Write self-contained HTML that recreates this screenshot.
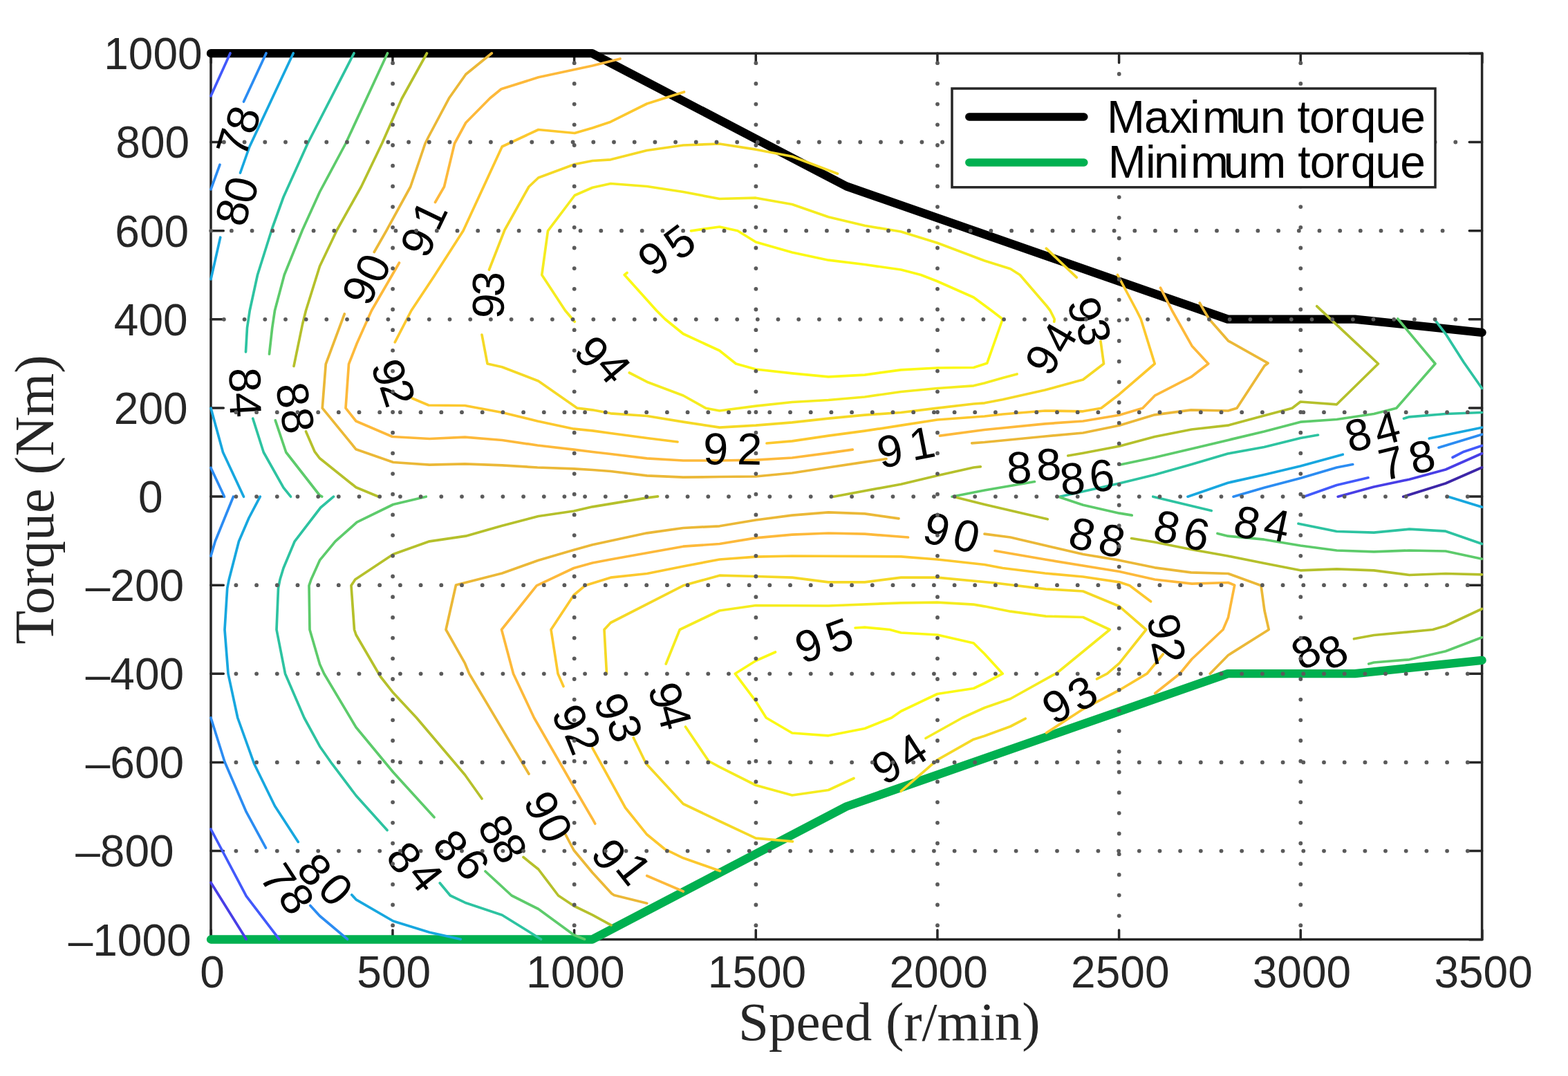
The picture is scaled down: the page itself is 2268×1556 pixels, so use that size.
<!DOCTYPE html>
<html lang="en"><head><meta charset="utf-8"><title>Motor efficiency map</title>
<style>html,body{margin:0;padding:0;background:#fff}svg{display:block}.tk{font-family:"Liberation Sans",Arial,sans-serif;font-size:64px;fill:#262626}.ax{font-family:"Liberation Serif","Times New Roman",serif;font-size:77px;fill:#262626}.lg{font-family:"Liberation Sans",Arial,sans-serif;font-size:66px;fill:#000}</style></head><body>
<svg width="2268" height="1556" viewBox="0 0 2268 1556">
<rect width="2268" height="1556" fill="#fff"/>
<g stroke="#262626" stroke-width="3.5" fill="none" stroke-linecap="round">
<rect x="305.0" y="77.2" width="1838.6" height="1281.3"/>
<path d="M305.30 1358.5 V1345.0 M305.30 77.2 V90.7"/>
<path d="M567.96 1358.5 V1345.0 M567.96 77.2 V90.7"/>
<path d="M830.61 1358.5 V1345.0 M830.61 77.2 V90.7"/>
<path d="M1093.27 1358.5 V1345.0 M1093.27 77.2 V90.7"/>
<path d="M1355.93 1358.5 V1345.0 M1355.93 77.2 V90.7"/>
<path d="M1618.59 1358.5 V1345.0 M1618.59 77.2 V90.7"/>
<path d="M1881.24 1358.5 V1345.0 M1881.24 77.2 V90.7"/>
<path d="M2143.90 1358.5 V1345.0 M2143.90 77.2 V90.7"/>
<path d="M305.0 1358.70 H323.3 M2143.6 1358.70 H2125.2999999999997"/>
<path d="M305.0 1230.57 H323.3 M2143.6 1230.57 H2125.2999999999997"/>
<path d="M305.0 1102.44 H323.3 M2143.6 1102.44 H2125.2999999999997"/>
<path d="M305.0 974.31 H323.3 M2143.6 974.31 H2125.2999999999997"/>
<path d="M305.0 846.18 H323.3 M2143.6 846.18 H2125.2999999999997"/>
<path d="M305.0 718.05 H323.3 M2143.6 718.05 H2125.2999999999997"/>
<path d="M305.0 589.92 H323.3 M2143.6 589.92 H2125.2999999999997"/>
<path d="M305.0 461.79 H323.3 M2143.6 461.79 H2125.2999999999997"/>
<path d="M305.0 333.66 H323.3 M2143.6 333.66 H2125.2999999999997"/>
<path d="M305.0 205.53 H323.3 M2143.6 205.53 H2125.2999999999997"/>
<path d="M305.0 77.40 H323.3 M2143.6 77.40 H2125.2999999999997"/>
</g>
<path d="M305.0 77.2 L856.6 77.2 L1224.3 269.4 L1775.9 461.6 L1959.7 461.6 L2143.6 480.8" stroke="#000" stroke-width="12.3" fill="none" stroke-linecap="round" stroke-linejoin="round"/>
<path d="M305.0 1358.5 L856.6 1358.5 L1224.3 1166.3 L1775.9 974.1 L1959.7 974.1 L2143.6 954.9" stroke="#00b050" stroke-width="12.3" fill="none" stroke-linecap="round" stroke-linejoin="round"/>
<g fill="none" stroke-width="3.7" stroke-linecap="round" stroke-linejoin="round" transform="scale(1.0 1)">
<path d="M333.00 77.0 L305.00 138.8" stroke="#4259fb"/>
<path d="M385.00 77.0 L352.50 147.0" stroke="#2b8cf2"/>
<path d="M318.00 238.2 L305.00 273.8" stroke="#2b8cf2"/>
<path d="M305.00 676.5 L324.50 718.2" stroke="#2b8cf2"/>
<path d="M424.25 77.0 L360.75 212.5 L347.50 250.0" stroke="#17a7df"/>
<path d="M318.75 343.2 L305.00 403.8" stroke="#17a7df"/>
<path d="M305.00 590.2 L322.50 654.0 L352.50 718.2" stroke="#17a7df"/>
<path d="M512.00 77.0 L445.00 207.5 L410.00 285.0 L393.75 330.0 L372.50 397.5 L361.25 449.0 L357.50 474.0 L355.50 509.0" stroke="#2dc3a1"/>
<path d="M365.75 605.2 L381.25 654.0 L410.00 705.2 L420.50 718.2" stroke="#2dc3a1"/>
<path d="M560.50 77.0 L500.00 207.5 L462.50 277.5 L437.50 332.5 L411.25 397.5 L397.50 449.0 L393.75 474.0 L389.50 512.0" stroke="#5dcb6b"/>
<path d="M398.25 607.8 L413.75 654.0 L462.50 716.5 L465.75 718.2" stroke="#5dcb6b"/>
<path d="M617.50 77.0 L581.25 142.5 L552.50 207.5 L522.50 270.0 L487.50 332.5 L462.50 385.0 L442.50 449.0 L437.50 469.0 L425.00 529.5" stroke="#b5c02b"/>
<path d="M442.50 624.0 L455.00 652.8 L462.50 662.8 L515.00 704.8 L547.50 718.2" stroke="#b5c02b"/>
<path d="M711.25 77.0 L673.75 107.5 L650.00 141.2 L620.00 197.5 L615.00 207.5 L593.75 270.0 L558.75 333.8 L541.25 364.5" stroke="#ebb837"/>
<path d="M498.25 454.0 L471.25 526.5 L466.25 590.2 L515.00 649.8 L568.75 668.5 L621.25 672.2 L672.50 670.8 L726.25 672.8 L777.50 676.0 L830.00 677.8 L857.00 679.5 L883.25 681.5 L935.75 687.8 L988.25 690.2 L1040.75 689.5 L1093.25 689.0 L1145.75 684.0 L1198.25 676.0 L1250.75 668.2 L1282.00 663.5" stroke="#ebb837"/>
<path d="M1405.75 640.8 L1424.00 639.5 L1511.50 631.0 L1566.50 626.0 L1619.00 615.2 L1670.25 599.8 L1722.75 592.8 L1776.50 594.0 L1789.00 590.2 L1829.00 529.0 L1834.00 525.2 L1776.50 492.8 L1749.00 461.5 L1741.50 449.0 L1735.25 438.0" stroke="#ebb837"/>
<path d="M897.00 85.0 L857.00 95.0 L778.75 111.8 L725.00 128.8 L708.75 142.0 L673.75 177.5 L657.50 207.5 L642.50 270.0 L629.50 292.5" stroke="#fdb93a"/>
<path d="M577.50 380.0 L537.50 449.0 L516.25 496.5 L504.50 526.5 L500.00 590.2 L515.00 609.0 L567.50 631.5 L621.25 634.5 L672.50 632.2 L726.25 636.5 L777.50 644.0 L830.00 650.2 L857.00 653.5 L883.25 656.5 L935.75 662.8 L988.25 666.0 L1040.75 666.0 L1093.25 665.2 L1145.75 662.0 L1198.25 655.2 L1233.25 650.2" stroke="#fdb93a"/>
<path d="M1359.50 630.2 L1424.00 621.5 L1511.50 612.8 L1566.50 609.0 L1619.00 600.2 L1652.75 590.2 L1670.25 572.2 L1722.75 545.2 L1747.75 526.0 L1724.00 500.2 L1695.25 449.0 L1678.50 416.2" stroke="#fdb93a"/>
<path d="M989.50 133.0 L935.75 150.0 L883.25 176.2 L857.00 185.0 L831.25 192.5 L778.75 187.5 L726.25 212.0 L670.00 333.8 L627.50 400.0 L595.00 449.0 L571.25 494.8" stroke="#fcc82d"/>
<path d="M596.25 576.0 L620.00 586.0 L672.50 586.5 L726.25 596.5 L777.50 609.0 L830.00 620.2 L857.00 622.8 L883.25 626.5 L935.75 633.5 L980.00 639.0" stroke="#fcc82d"/>
<path d="M1109.00 641.0 L1145.75 637.8 L1198.25 630.2 L1250.75 623.2 L1303.25 615.2 L1355.75 607.0 L1424.00 602.0 L1450.25 599.0 L1511.50 594.0 L1566.50 594.8 L1592.75 590.2 L1619.00 570.2 L1670.25 526.0 L1650.25 461.5 L1644.00 449.0 L1616.50 397.5" stroke="#fcc82d"/>
<path d="M1211.50 251.2 L1145.75 226.2 L1093.25 216.2 L1040.75 208.0 L988.25 210.0 L935.75 217.5 L883.25 230.8 L857.00 232.5 L831.25 237.5 L778.75 257.0 L765.00 270.0 L730.00 332.5 L707.50 390.0" stroke="#f5d925"/>
<path d="M697.00 484.0 L705.00 526.0 L726.25 530.8 L778.75 551.0 L835.00 590.2 L857.00 592.8 L883.25 597.8 L935.75 601.5 L988.25 610.2 L1040.75 618.2 L1093.25 615.2 L1145.75 610.8 L1198.25 605.2 L1250.75 600.2 L1303.25 596.5 L1355.75 590.2 L1408.25 584.0 L1424.00 582.8 L1450.25 577.8 L1511.50 564.0 L1566.50 549.0 L1596.50 526.0 L1592.00 493.5" stroke="#f5d925"/>
<path d="M1557.25 401.2 L1513.25 359.2" stroke="#f5d925"/>
<path d="M1524.75 465.2 L1525.25 461.5 L1519.00 449.0 L1514.00 442.5 L1475.25 397.5 L1461.50 388.8 L1424.00 377.0 L1355.75 351.2 L1303.25 335.0 L1250.75 326.2 L1198.25 313.8 L1145.75 295.5 L1093.25 286.2 L1040.75 287.5 L988.25 277.5 L935.75 269.5 L883.25 265.5 L857.00 271.2 L831.25 282.5 L792.50 333.8 L783.75 397.5 L817.50 449.0 L831.25 465.2" stroke="#f5ec1f"/>
<path d="M910.25 539.0 L935.75 552.2 L988.25 572.0 L1020.75 590.2 L1040.75 594.0 L1093.25 587.2 L1145.75 581.5 L1198.25 578.5 L1250.75 574.0 L1303.25 566.5 L1355.75 561.5 L1408.25 557.8 L1424.00 554.0 L1450.25 546.5 L1471.00 541.0" stroke="#f5ec1f"/>
<path d="M999.50 333.8 L1040.75 328.0 L1067.00 333.8 L1093.25 350.0 L1145.75 365.0 L1198.25 376.2 L1250.75 382.5 L1303.25 390.0 L1332.00 397.5 L1355.75 406.8 L1408.25 430.0 L1434.00 449.0 L1450.25 461.5 L1427.75 525.2 L1408.25 531.5 L1355.75 532.0 L1303.25 534.8 L1250.75 542.2 L1198.25 544.8 L1145.75 539.8 L1093.25 534.0 L1064.50 526.0 L1040.75 507.0 L988.25 482.8 L962.00 461.5 L949.50 449.0 L903.25 397.5 L907.00 394.5" stroke="#fbf914"/>
<path d="M1904.75 442.8 L1993.50 526.0 L1933.50 584.8 L1881.00 581.0 L1869.00 590.2 L1828.50 601.0 L1776.00 615.2 L1723.50 621.0 L1670.25 631.5 L1619.00 645.2 L1566.50 655.2 L1544.75 659.0" stroke="#b5c02b"/>
<path d="M1418.25 674.8 L1408.25 676.0 L1355.75 687.8 L1303.25 700.2 L1205.75 718.2" stroke="#b5c02b"/>
<path d="M2021.75 461.0 L2076.00 526.0 L2019.75 590.2 L1987.25 598.5 L1933.50 606.5 L1881.00 610.2 L1828.50 624.0 L1723.50 649.0 L1670.25 661.5 L1620.25 672.0" stroke="#5dcb6b"/>
<path d="M1496.50 696.5 L1424.00 709.0 L1377.00 718.2" stroke="#5dcb6b"/>
<path d="M2074.75 461.5 L2091.00 482.8 L2117.25 524.0 L2143.50 561.5" stroke="#2dc3a1"/>
<path d="M2143.50 596.5 L2091.00 598.5 L2038.50 602.8 L2030.50 605.2" stroke="#2dc3a1"/>
<path d="M1906.50 629.0 L1881.00 633.5 L1828.50 646.5 L1776.00 656.0 L1723.50 671.5 L1670.25 686.5 L1619.00 699.0 L1532.75 718.2" stroke="#2dc3a1"/>
<path d="M2143.50 618.2 L2067.25 634.0" stroke="#17a7df"/>
<path d="M1942.25 657.2 L1881.00 674.0 L1828.50 686.5 L1776.00 698.2 L1718.00 718.2" stroke="#17a7df"/>
<path d="M2143.50 628.2 L2081.00 647.2" stroke="#2b8cf2"/>
<path d="M1956.75 671.5 L1933.50 676.0 L1881.00 691.5 L1828.50 705.2 L1784.00 718.2" stroke="#2b8cf2"/>
<path d="M2143.50 644.5 L2117.25 653.2 L2101.00 661.5" stroke="#4259fb"/>
<path d="M1979.00 690.8 L1933.50 701.5 L1886.00 718.2" stroke="#4259fb"/>
<path d="M2143.50 655.8 L2091.00 679.0 L2038.50 693.2 L1987.25 704.0 L1935.25 718.2" stroke="#483ee6"/>
<path d="M2143.50 676.0 L2091.00 699.0 L2029.75 718.2" stroke="#3d26a8"/>
<path d="M305.00 1276.2 L356.25 1358.2" stroke="#483ee6"/>
<path d="M305.00 1199.0 L356.25 1295.8 L403.75 1358.2" stroke="#4259fb"/>
<path d="M337.50 718.2 L311.25 782.8 L305.00 804.0" stroke="#2b8cf2"/>
<path d="M305.00 1038.0 L325.00 1101.8 L356.25 1174.2 L384.50 1226.2" stroke="#2b8cf2"/>
<path d="M448.75 1309.5 L462.50 1324.5 L502.50 1358.2" stroke="#2b8cf2"/>
<path d="M376.25 718.2 L360.00 749.0 L345.50 782.8 L331.25 838.0 L328.75 850.5 L325.00 910.5 L330.00 974.2 L343.75 1038.0 L367.50 1104.2 L397.50 1165.5 L431.25 1217.5" stroke="#17a7df"/>
<path d="M508.75 1294.0 L515.00 1300.8 L568.75 1332.0 L621.25 1348.2 L666.25 1358.2" stroke="#17a7df"/>
<path d="M2094.75 718.2 L2143.50 733.2" stroke="#17a7df"/>
<path d="M482.50 718.2 L463.75 734.0 L426.25 782.8 L410.00 821.5 L405.00 838.0 L402.50 850.5 L400.00 910.5 L412.50 974.2 L440.00 1038.0 L462.50 1079.2 L480.00 1104.2 L515.00 1150.5 L560.00 1200.5" stroke="#2dc3a1"/>
<path d="M636.25 1277.0 L651.25 1295.0 L672.50 1305.2 L726.25 1323.2 L782.50 1358.2" stroke="#2dc3a1"/>
<path d="M1667.75 718.2 L1752.25 738.5" stroke="#2dc3a1"/>
<path d="M1878.00 757.2 L1933.50 768.5 L1987.25 770.2 L2038.50 765.2 L2091.00 768.2 L2143.50 786.5" stroke="#2dc3a1"/>
<path d="M616.25 718.2 L568.75 729.5 L516.25 755.2 L485.00 782.8 L462.50 810.2 L450.00 838.0 L447.00 846.8 L448.00 910.5 L462.50 960.5 L468.75 974.2 L515.00 1051.8 L568.75 1116.8 L628.00 1181.8" stroke="#5dcb6b"/>
<path d="M702.00 1260.0 L740.00 1295.0 L778.75 1314.5 L830.00 1352.0 L845.50 1358.2" stroke="#5dcb6b"/>
<path d="M1532.75 719.0 L1566.50 730.2 L1619.00 742.2 L1637.25 745.2" stroke="#5dcb6b"/>
<path d="M1761.00 771.5 L1776.00 775.2 L1828.50 780.2 L1881.00 789.0 L1933.50 796.0 L1987.25 797.8 L2038.50 796.0 L2091.00 797.0 L2143.50 808.2" stroke="#5dcb6b"/>
<path d="M1979.75 960.0 L1987.25 958.0 L2038.50 953.8 L2091.00 941.8 L2143.50 921.8" stroke="#5dcb6b"/>
<path d="M951.50 717.8 L935.75 719.8 L857.00 732.8 L830.00 739.0 L778.75 746.5 L726.25 760.2 L673.75 775.2 L621.25 782.8 L568.75 801.5 L513.75 838.0 L508.00 846.8 L512.50 910.5 L515.00 918.0 L550.00 978.0 L568.75 1001.8 L602.50 1038.0 L672.50 1120.5 L697.00 1155.0" stroke="#b5c02b"/>
<path d="M757.00 1239.5 L778.75 1257.0 L807.50 1295.0 L830.00 1310.0 L857.00 1323.2 L884.00 1337.8" stroke="#b5c02b"/>
<path d="M1382.00 719.0 L1424.00 729.5 L1515.25 750.8" stroke="#b5c02b"/>
<path d="M1636.50 778.5 L1670.25 784.0 L1722.75 794.5 L1776.00 804.0 L1828.50 814.5 L1881.00 824.8 L1933.50 822.8 L1987.25 824.8 L2038.50 831.5 L2091.00 829.5 L2143.50 830.8" stroke="#b5c02b"/>
<path d="M1958.50 923.8 L1987.25 918.5 L2072.25 910.5 L2091.00 905.0 L2143.50 880.5" stroke="#b5c02b"/>
<path d="M1300.00 749.8 L1250.75 742.8 L1198.25 740.8 L1145.75 745.2 L1093.25 752.0 L1040.75 760.8 L988.25 763.5 L935.75 770.8 L857.00 787.8 L830.00 795.2 L778.75 810.2 L726.25 829.0 L659.50 846.0 L645.00 910.5 L672.50 959.2 L678.75 974.2 L765.00 1119.2" stroke="#ebb837"/>
<path d="M817.50 1205.8 L830.00 1229.5 L857.00 1262.0 L884.50 1292.0 L888.25 1294.5 L935.75 1306.2" stroke="#ebb837"/>
<path d="M1424.00 772.2 L1461.50 777.0 L1566.50 801.5 L1619.00 810.2 L1670.25 820.8 L1722.75 827.8 L1776.50 829.5 L1824.00 846.8 L1829.00 883.0 L1835.25 910.5 L1776.50 947.5 L1750.25 974.2" stroke="#ebb837"/>
<path d="M1313.50 777.0 L1250.75 772.2 L1198.25 771.0 L1145.75 773.2 L1093.25 777.8 L1040.75 786.5 L988.25 790.2 L883.25 809.0 L857.00 814.0 L830.00 821.5 L776.25 846.8 L725.50 910.5 L742.50 974.2 L772.50 1038.0 L830.00 1138.0 L857.00 1184.2 L860.75 1191.2" stroke="#fdb93a"/>
<path d="M935.75 1266.5 L988.25 1289.0" stroke="#fdb93a"/>
<path d="M1439.00 796.5 L1511.50 809.0 L1619.00 826.5 L1670.25 838.0 L1724.00 844.2 L1776.50 842.5 L1785.75 846.2 L1776.50 893.0 L1769.00 910.5 L1724.00 953.0 L1706.50 974.2 L1670.75 1002.5" stroke="#fdb93a"/>
<path d="M815.00 992.5 L807.00 974.2 L797.00 910.5 L830.00 860.5 L846.25 846.8 L883.25 835.2 L935.75 829.5 L988.25 819.0 L1040.75 809.0 L1093.25 805.2 L1145.75 804.0 L1303.25 804.8 L1355.75 809.0 L1424.00 816.5 L1450.25 821.5 L1511.50 829.0 L1566.50 834.0 L1619.00 841.8 L1634.00 846.8 L1664.50 869.8" stroke="#fcc82d"/>
<path d="M1682.25 946.0 L1659.00 974.2 L1619.00 998.0 L1566.50 1025.5 L1513.50 1059.8" stroke="#fcc82d"/>
<path d="M857.00 1081.8 L904.50 1168.0 L935.75 1206.8 L962.00 1228.2 L988.25 1240.8 L1041.50 1259.5" stroke="#fcc82d"/>
<path d="M877.50 974.2 L874.00 910.5 L883.25 900.5 L988.25 846.8 L1040.75 832.2 L1093.25 833.5 L1145.75 835.2 L1198.25 841.8 L1250.75 841.8 L1303.25 835.2 L1355.75 835.2 L1439.00 843.0 L1512.75 851.8 L1566.50 855.0 L1619.00 876.8 L1657.75 910.5 L1619.00 959.2 L1601.50 974.2 L1586.50 981.8" stroke="#f5d925"/>
<path d="M1483.25 1039.2 L1461.50 1050.5 L1424.00 1064.2 L1408.25 1069.2 L1355.75 1098.8 L1303.25 1144.2" stroke="#f5d925"/>
<path d="M916.25 1066.8 L934.50 1104.2 L988.25 1162.5 L1040.75 1187.5 L1093.25 1212.2 L1146.50 1216.8" stroke="#f5d925"/>
<path d="M963.25 960.0 L983.25 910.5 L1040.75 883.0 L1093.25 875.5 L1198.25 876.0 L1303.25 871.8 L1355.75 871.2 L1408.25 874.2 L1424.00 876.8 L1461.50 884.2 L1512.75 891.2 L1566.50 892.5 L1605.25 910.5 L1529.00 973.0 L1461.50 1010.5 L1424.00 1023.5 L1392.00 1038.0 L1339.00 1067.5" stroke="#f5ec1f"/>
<path d="M1235.00 1125.5 L1198.25 1142.5 L1145.75 1150.0 L1093.25 1135.5 L1040.75 1109.2 L1025.00 1100.5 L991.50 1051.0" stroke="#f5ec1f"/>
<path d="M1121.50 943.0 L1093.25 955.5 L1063.25 974.2 L1093.25 1014.2 L1108.25 1038.0 L1145.75 1060.0 L1198.25 1063.8 L1250.75 1053.5 L1289.50 1038.0 L1303.25 1028.5 L1355.75 1003.5 L1408.25 995.5 L1424.00 988.0 L1450.25 974.2 L1424.00 945.5 L1408.25 930.0 L1355.75 918.0 L1303.25 915.0 L1287.00 910.5 L1250.75 907.2 L1237.00 908.0" stroke="#fbf914"/>
</g>
<g font-family="Liberation Sans, Arial, sans-serif" font-size="65" fill="#000">
<text x="354.6 367.5" y="229.8 196.7" rotate="-73 -73">78</text>
<text x="353.9 366.1" y="330.0 297.5" rotate="-76 -76">80</text>
<text x="534.5 553.3" y="445.1 412.8" rotate="-68 -68">90</text>
<text x="617.2 633.6" y="376.1 336.8" rotate="-64.5 -64.5">91</text>
<text x="727.6 727.6" y="462.1 429.9" rotate="-86 -86">93</text>
<text x="944.6 982.2" y="402.1 378.6" rotate="-37 -37">95</text>
<text x="331.1 331.6" y="532.8 568.5" rotate="87 87">84</text>
<text x="398.6 405.2" y="557.6 594.3" rotate="80 80">88</text>
<text x="535.9 548.6" y="528.4 558.1" rotate="72 72">92</text>
<text x="827.6 858.8" y="509.4 531.7" rotate="50 50">94</text>
<text x="1016.8 1065.7" y="671.2 671.4" rotate="1 1">92</text>
<text x="1273.8 1320.1" y="677.5 666.5" rotate="-11 -11">91</text>
<text x="1518.8 1542.2" y="546.7 515.1" rotate="-60 -60">94</text>
<text x="1543.3 1556.0" y="437.0 468.8" rotate="75 75">93</text>
<text x="1457.3 1500.0" y="699.4 695.1" rotate="-3 -3">88</text>
<text x="1535.4 1578.0" y="716.5 712.0" rotate="-6 -6">86</text>
<text x="1952.8 1994.2" y="655.0 645.7" rotate="-15 -15">84</text>
<text x="2001.1 2044.6" y="695.8 686.7" rotate="-14 -14">78</text>
<text x="1331.7 1374.7" y="782.5 792.0" rotate="15 15">90</text>
<text x="1542.7 1585.8" y="790.5 799.4" rotate="13 13">88</text>
<text x="1665.5 1708.5" y="780.5 790.4" rotate="12 12">86</text>
<text x="1781.5 1824.8" y="774.0 777.5" rotate="12 12">84</text>
<text x="1160.5 1204.8" y="960.4 946.6" rotate="-20 -20">95</text>
<text x="1658.5 1664.7" y="893.3 928.4" rotate="78 78">92</text>
<text x="1883.5 1922.8" y="971.0 971.0" rotate="-28 -28">88</text>
<text x="1524.5 1561.2" y="1049.3 1031.0" rotate="-30 -30">93</text>
<text x="1279.5 1316.0" y="1137.3 1114.6" rotate="-33 -33">94</text>
<text x="937.1 949.0" y="994.2 1024.1" rotate="75 75">94</text>
<text x="858.6 876.9" y="1011.5 1043.2" rotate="72 72">93</text>
<text x="797.0 815.8" y="1030.6 1062.0" rotate="68 68">92</text>
<text x="756.0 774.3" y="1158.4 1191.0" rotate="64 64">90</text>
<text x="689.4 708.4" y="1194.0 1221.5" rotate="62 62">88</text>
<text x="623.3 654.0" y="1222.5 1249.3" rotate="52 52">86</text>
<text x="555.9 587.0" y="1239.8 1266.3" rotate="52 52">84</text>
<text x="426.4 456.9" y="1259.8 1288.2" rotate="47 47">80</text>
<text x="374.0 400.2" y="1267.9 1296.9" rotate="57 57">78</text>
<text x="852.2 888.0" y="1235.5 1256.0" rotate="52 52">91</text>
</g>
<g fill="#5a5a5a">
<circle cx="568.1" cy="91.2" r="2.9"/>
<circle cx="568.1" cy="120.9" r="2.9"/>
<circle cx="568.1" cy="150.6" r="2.9"/>
<circle cx="568.1" cy="180.3" r="2.9"/>
<circle cx="568.1" cy="210.0" r="2.9"/>
<circle cx="568.1" cy="239.7" r="2.9"/>
<circle cx="568.1" cy="269.4" r="2.9"/>
<circle cx="568.1" cy="299.1" r="2.9"/>
<circle cx="568.1" cy="328.8" r="2.9"/>
<circle cx="568.1" cy="358.5" r="2.9"/>
<circle cx="568.1" cy="388.1" r="2.9"/>
<circle cx="568.1" cy="417.8" r="2.9"/>
<circle cx="568.1" cy="447.5" r="2.9"/>
<circle cx="568.1" cy="477.2" r="2.9"/>
<circle cx="568.1" cy="506.9" r="2.9"/>
<circle cx="568.1" cy="536.6" r="2.9"/>
<circle cx="568.1" cy="566.3" r="2.9"/>
<circle cx="568.1" cy="596.0" r="2.9"/>
<circle cx="568.1" cy="625.7" r="2.9"/>
<circle cx="568.1" cy="655.4" r="2.9"/>
<circle cx="568.1" cy="685.1" r="2.9"/>
<circle cx="568.1" cy="714.7" r="2.9"/>
<circle cx="568.1" cy="744.4" r="2.9"/>
<circle cx="568.1" cy="774.1" r="2.9"/>
<circle cx="568.1" cy="803.8" r="2.9"/>
<circle cx="568.1" cy="833.5" r="2.9"/>
<circle cx="568.1" cy="863.2" r="2.9"/>
<circle cx="568.1" cy="892.9" r="2.9"/>
<circle cx="568.1" cy="922.6" r="2.9"/>
<circle cx="568.1" cy="952.3" r="2.9"/>
<circle cx="568.1" cy="982.0" r="2.9"/>
<circle cx="568.1" cy="1011.6" r="2.9"/>
<circle cx="568.1" cy="1041.3" r="2.9"/>
<circle cx="568.1" cy="1071.0" r="2.9"/>
<circle cx="568.1" cy="1100.7" r="2.9"/>
<circle cx="568.1" cy="1130.4" r="2.9"/>
<circle cx="568.1" cy="1160.1" r="2.9"/>
<circle cx="568.1" cy="1189.8" r="2.9"/>
<circle cx="568.1" cy="1219.5" r="2.9"/>
<circle cx="568.1" cy="1249.2" r="2.9"/>
<circle cx="568.1" cy="1278.9" r="2.9"/>
<circle cx="568.1" cy="1308.5" r="2.9"/>
<circle cx="568.1" cy="1338.2" r="2.9"/>
<circle cx="830.7" cy="91.2" r="2.9"/>
<circle cx="830.7" cy="120.9" r="2.9"/>
<circle cx="830.7" cy="150.6" r="2.9"/>
<circle cx="830.7" cy="180.3" r="2.9"/>
<circle cx="830.7" cy="210.0" r="2.9"/>
<circle cx="830.7" cy="239.7" r="2.9"/>
<circle cx="830.7" cy="269.4" r="2.9"/>
<circle cx="830.7" cy="299.1" r="2.9"/>
<circle cx="830.7" cy="328.8" r="2.9"/>
<circle cx="830.7" cy="358.5" r="2.9"/>
<circle cx="830.7" cy="388.1" r="2.9"/>
<circle cx="830.7" cy="417.8" r="2.9"/>
<circle cx="830.7" cy="447.5" r="2.9"/>
<circle cx="830.7" cy="477.2" r="2.9"/>
<circle cx="830.7" cy="506.9" r="2.9"/>
<circle cx="830.7" cy="536.6" r="2.9"/>
<circle cx="830.7" cy="566.3" r="2.9"/>
<circle cx="830.7" cy="596.0" r="2.9"/>
<circle cx="830.7" cy="625.7" r="2.9"/>
<circle cx="830.7" cy="655.4" r="2.9"/>
<circle cx="830.7" cy="685.1" r="2.9"/>
<circle cx="830.7" cy="714.7" r="2.9"/>
<circle cx="830.7" cy="744.4" r="2.9"/>
<circle cx="830.7" cy="774.1" r="2.9"/>
<circle cx="830.7" cy="803.8" r="2.9"/>
<circle cx="830.7" cy="833.5" r="2.9"/>
<circle cx="830.7" cy="863.2" r="2.9"/>
<circle cx="830.7" cy="892.9" r="2.9"/>
<circle cx="830.7" cy="922.6" r="2.9"/>
<circle cx="830.7" cy="952.3" r="2.9"/>
<circle cx="830.7" cy="982.0" r="2.9"/>
<circle cx="830.7" cy="1011.6" r="2.9"/>
<circle cx="830.7" cy="1041.3" r="2.9"/>
<circle cx="830.7" cy="1071.0" r="2.9"/>
<circle cx="830.7" cy="1100.7" r="2.9"/>
<circle cx="830.7" cy="1130.4" r="2.9"/>
<circle cx="830.7" cy="1160.1" r="2.9"/>
<circle cx="830.7" cy="1189.8" r="2.9"/>
<circle cx="830.7" cy="1219.5" r="2.9"/>
<circle cx="830.7" cy="1249.2" r="2.9"/>
<circle cx="830.7" cy="1278.9" r="2.9"/>
<circle cx="830.7" cy="1308.5" r="2.9"/>
<circle cx="830.7" cy="1338.2" r="2.9"/>
<circle cx="1093.4" cy="91.2" r="2.9"/>
<circle cx="1093.4" cy="120.9" r="2.9"/>
<circle cx="1093.4" cy="150.6" r="2.9"/>
<circle cx="1093.4" cy="180.3" r="2.9"/>
<circle cx="1093.4" cy="210.0" r="2.9"/>
<circle cx="1093.4" cy="239.7" r="2.9"/>
<circle cx="1093.4" cy="269.4" r="2.9"/>
<circle cx="1093.4" cy="299.1" r="2.9"/>
<circle cx="1093.4" cy="328.8" r="2.9"/>
<circle cx="1093.4" cy="358.5" r="2.9"/>
<circle cx="1093.4" cy="388.1" r="2.9"/>
<circle cx="1093.4" cy="417.8" r="2.9"/>
<circle cx="1093.4" cy="447.5" r="2.9"/>
<circle cx="1093.4" cy="477.2" r="2.9"/>
<circle cx="1093.4" cy="506.9" r="2.9"/>
<circle cx="1093.4" cy="536.6" r="2.9"/>
<circle cx="1093.4" cy="566.3" r="2.9"/>
<circle cx="1093.4" cy="596.0" r="2.9"/>
<circle cx="1093.4" cy="625.7" r="2.9"/>
<circle cx="1093.4" cy="655.4" r="2.9"/>
<circle cx="1093.4" cy="685.1" r="2.9"/>
<circle cx="1093.4" cy="714.7" r="2.9"/>
<circle cx="1093.4" cy="744.4" r="2.9"/>
<circle cx="1093.4" cy="774.1" r="2.9"/>
<circle cx="1093.4" cy="803.8" r="2.9"/>
<circle cx="1093.4" cy="833.5" r="2.9"/>
<circle cx="1093.4" cy="863.2" r="2.9"/>
<circle cx="1093.4" cy="892.9" r="2.9"/>
<circle cx="1093.4" cy="922.6" r="2.9"/>
<circle cx="1093.4" cy="952.3" r="2.9"/>
<circle cx="1093.4" cy="982.0" r="2.9"/>
<circle cx="1093.4" cy="1011.6" r="2.9"/>
<circle cx="1093.4" cy="1041.3" r="2.9"/>
<circle cx="1093.4" cy="1071.0" r="2.9"/>
<circle cx="1093.4" cy="1100.7" r="2.9"/>
<circle cx="1093.4" cy="1130.4" r="2.9"/>
<circle cx="1093.4" cy="1160.1" r="2.9"/>
<circle cx="1093.4" cy="1189.8" r="2.9"/>
<circle cx="1093.4" cy="1219.5" r="2.9"/>
<circle cx="1093.4" cy="1249.2" r="2.9"/>
<circle cx="1093.4" cy="1278.9" r="2.9"/>
<circle cx="1093.4" cy="1308.5" r="2.9"/>
<circle cx="1093.4" cy="1338.2" r="2.9"/>
<circle cx="1356.0" cy="91.2" r="2.9"/>
<circle cx="1356.0" cy="120.9" r="2.9"/>
<circle cx="1356.0" cy="150.6" r="2.9"/>
<circle cx="1356.0" cy="180.3" r="2.9"/>
<circle cx="1356.0" cy="210.0" r="2.9"/>
<circle cx="1356.0" cy="239.7" r="2.9"/>
<circle cx="1356.0" cy="269.4" r="2.9"/>
<circle cx="1356.0" cy="299.1" r="2.9"/>
<circle cx="1356.0" cy="328.8" r="2.9"/>
<circle cx="1356.0" cy="358.5" r="2.9"/>
<circle cx="1356.0" cy="388.1" r="2.9"/>
<circle cx="1356.0" cy="417.8" r="2.9"/>
<circle cx="1356.0" cy="447.5" r="2.9"/>
<circle cx="1356.0" cy="477.2" r="2.9"/>
<circle cx="1356.0" cy="506.9" r="2.9"/>
<circle cx="1356.0" cy="536.6" r="2.9"/>
<circle cx="1356.0" cy="566.3" r="2.9"/>
<circle cx="1356.0" cy="596.0" r="2.9"/>
<circle cx="1356.0" cy="625.7" r="2.9"/>
<circle cx="1356.0" cy="655.4" r="2.9"/>
<circle cx="1356.0" cy="685.1" r="2.9"/>
<circle cx="1356.0" cy="714.7" r="2.9"/>
<circle cx="1356.0" cy="744.4" r="2.9"/>
<circle cx="1356.0" cy="774.1" r="2.9"/>
<circle cx="1356.0" cy="803.8" r="2.9"/>
<circle cx="1356.0" cy="833.5" r="2.9"/>
<circle cx="1356.0" cy="863.2" r="2.9"/>
<circle cx="1356.0" cy="892.9" r="2.9"/>
<circle cx="1356.0" cy="922.6" r="2.9"/>
<circle cx="1356.0" cy="952.3" r="2.9"/>
<circle cx="1356.0" cy="982.0" r="2.9"/>
<circle cx="1356.0" cy="1011.6" r="2.9"/>
<circle cx="1356.0" cy="1041.3" r="2.9"/>
<circle cx="1356.0" cy="1071.0" r="2.9"/>
<circle cx="1356.0" cy="1100.7" r="2.9"/>
<circle cx="1356.0" cy="1130.4" r="2.9"/>
<circle cx="1356.0" cy="1160.1" r="2.9"/>
<circle cx="1356.0" cy="1189.8" r="2.9"/>
<circle cx="1356.0" cy="1219.5" r="2.9"/>
<circle cx="1356.0" cy="1249.2" r="2.9"/>
<circle cx="1356.0" cy="1278.9" r="2.9"/>
<circle cx="1356.0" cy="1308.5" r="2.9"/>
<circle cx="1356.0" cy="1338.2" r="2.9"/>
<circle cx="1618.7" cy="107.0" r="2.9"/>
<circle cx="1618.7" cy="136.7" r="2.9"/>
<circle cx="1618.7" cy="166.4" r="2.9"/>
<circle cx="1618.7" cy="196.1" r="2.9"/>
<circle cx="1618.7" cy="225.8" r="2.9"/>
<circle cx="1618.7" cy="255.4" r="2.9"/>
<circle cx="1618.7" cy="285.1" r="2.9"/>
<circle cx="1618.7" cy="314.8" r="2.9"/>
<circle cx="1618.7" cy="344.5" r="2.9"/>
<circle cx="1618.7" cy="374.2" r="2.9"/>
<circle cx="1618.7" cy="403.9" r="2.9"/>
<circle cx="1618.7" cy="433.6" r="2.9"/>
<circle cx="1618.7" cy="463.3" r="2.9"/>
<circle cx="1618.7" cy="493.0" r="2.9"/>
<circle cx="1618.7" cy="522.7" r="2.9"/>
<circle cx="1618.7" cy="552.4" r="2.9"/>
<circle cx="1618.7" cy="582.0" r="2.9"/>
<circle cx="1618.7" cy="611.7" r="2.9"/>
<circle cx="1618.7" cy="641.4" r="2.9"/>
<circle cx="1618.7" cy="671.1" r="2.9"/>
<circle cx="1618.7" cy="700.8" r="2.9"/>
<circle cx="1618.7" cy="730.5" r="2.9"/>
<circle cx="1618.7" cy="760.2" r="2.9"/>
<circle cx="1618.7" cy="789.9" r="2.9"/>
<circle cx="1618.7" cy="819.6" r="2.9"/>
<circle cx="1618.7" cy="849.3" r="2.9"/>
<circle cx="1618.7" cy="878.9" r="2.9"/>
<circle cx="1618.7" cy="908.6" r="2.9"/>
<circle cx="1618.7" cy="938.3" r="2.9"/>
<circle cx="1618.7" cy="968.0" r="2.9"/>
<circle cx="1618.7" cy="997.7" r="2.9"/>
<circle cx="1618.7" cy="1027.4" r="2.9"/>
<circle cx="1618.7" cy="1057.1" r="2.9"/>
<circle cx="1618.7" cy="1086.8" r="2.9"/>
<circle cx="1618.7" cy="1116.5" r="2.9"/>
<circle cx="1618.7" cy="1146.2" r="2.9"/>
<circle cx="1618.7" cy="1175.8" r="2.9"/>
<circle cx="1618.7" cy="1205.5" r="2.9"/>
<circle cx="1618.7" cy="1235.2" r="2.9"/>
<circle cx="1618.7" cy="1264.9" r="2.9"/>
<circle cx="1618.7" cy="1294.6" r="2.9"/>
<circle cx="1618.7" cy="1324.3" r="2.9"/>
<circle cx="1881.3" cy="91.2" r="2.9"/>
<circle cx="1881.3" cy="120.9" r="2.9"/>
<circle cx="1881.3" cy="150.6" r="2.9"/>
<circle cx="1881.3" cy="180.3" r="2.9"/>
<circle cx="1881.3" cy="210.0" r="2.9"/>
<circle cx="1881.3" cy="239.7" r="2.9"/>
<circle cx="1881.3" cy="269.4" r="2.9"/>
<circle cx="1881.3" cy="299.1" r="2.9"/>
<circle cx="1881.3" cy="328.8" r="2.9"/>
<circle cx="1881.3" cy="358.5" r="2.9"/>
<circle cx="1881.3" cy="388.1" r="2.9"/>
<circle cx="1881.3" cy="417.8" r="2.9"/>
<circle cx="1881.3" cy="447.5" r="2.9"/>
<circle cx="1881.3" cy="477.2" r="2.9"/>
<circle cx="1881.3" cy="506.9" r="2.9"/>
<circle cx="1881.3" cy="536.6" r="2.9"/>
<circle cx="1881.3" cy="566.3" r="2.9"/>
<circle cx="1881.3" cy="596.0" r="2.9"/>
<circle cx="1881.3" cy="625.7" r="2.9"/>
<circle cx="1881.3" cy="655.4" r="2.9"/>
<circle cx="1881.3" cy="685.1" r="2.9"/>
<circle cx="1881.3" cy="714.7" r="2.9"/>
<circle cx="1881.3" cy="744.4" r="2.9"/>
<circle cx="1881.3" cy="774.1" r="2.9"/>
<circle cx="1881.3" cy="803.8" r="2.9"/>
<circle cx="1881.3" cy="833.5" r="2.9"/>
<circle cx="1881.3" cy="863.2" r="2.9"/>
<circle cx="1881.3" cy="892.9" r="2.9"/>
<circle cx="1881.3" cy="922.6" r="2.9"/>
<circle cx="1881.3" cy="952.3" r="2.9"/>
<circle cx="1881.3" cy="982.0" r="2.9"/>
<circle cx="1881.3" cy="1011.6" r="2.9"/>
<circle cx="1881.3" cy="1041.3" r="2.9"/>
<circle cx="1881.3" cy="1071.0" r="2.9"/>
<circle cx="1881.3" cy="1100.7" r="2.9"/>
<circle cx="1881.3" cy="1130.4" r="2.9"/>
<circle cx="1881.3" cy="1160.1" r="2.9"/>
<circle cx="1881.3" cy="1189.8" r="2.9"/>
<circle cx="1881.3" cy="1219.5" r="2.9"/>
<circle cx="1881.3" cy="1249.2" r="2.9"/>
<circle cx="1881.3" cy="1278.9" r="2.9"/>
<circle cx="1881.3" cy="1308.5" r="2.9"/>
<circle cx="1881.3" cy="1338.2" r="2.9"/>
<circle cx="323.9" cy="205.5" r="2.9"/>
<circle cx="353.6" cy="205.5" r="2.9"/>
<circle cx="383.3" cy="205.5" r="2.9"/>
<circle cx="413.0" cy="205.5" r="2.9"/>
<circle cx="442.7" cy="205.5" r="2.9"/>
<circle cx="472.3" cy="205.5" r="2.9"/>
<circle cx="502.0" cy="205.5" r="2.9"/>
<circle cx="531.7" cy="205.5" r="2.9"/>
<circle cx="561.4" cy="205.5" r="2.9"/>
<circle cx="591.1" cy="205.5" r="2.9"/>
<circle cx="620.8" cy="205.5" r="2.9"/>
<circle cx="650.5" cy="205.5" r="2.9"/>
<circle cx="680.2" cy="205.5" r="2.9"/>
<circle cx="709.9" cy="205.5" r="2.9"/>
<circle cx="739.6" cy="205.5" r="2.9"/>
<circle cx="769.3" cy="205.5" r="2.9"/>
<circle cx="798.9" cy="205.5" r="2.9"/>
<circle cx="828.6" cy="205.5" r="2.9"/>
<circle cx="858.3" cy="205.5" r="2.9"/>
<circle cx="888.0" cy="205.5" r="2.9"/>
<circle cx="917.7" cy="205.5" r="2.9"/>
<circle cx="947.4" cy="205.5" r="2.9"/>
<circle cx="977.1" cy="205.5" r="2.9"/>
<circle cx="1006.8" cy="205.5" r="2.9"/>
<circle cx="1036.5" cy="205.5" r="2.9"/>
<circle cx="1066.2" cy="205.5" r="2.9"/>
<circle cx="1095.8" cy="205.5" r="2.9"/>
<circle cx="1125.5" cy="205.5" r="2.9"/>
<circle cx="1155.2" cy="205.5" r="2.9"/>
<circle cx="1184.9" cy="205.5" r="2.9"/>
<circle cx="1214.6" cy="205.5" r="2.9"/>
<circle cx="1244.3" cy="205.5" r="2.9"/>
<circle cx="1274.0" cy="205.5" r="2.9"/>
<circle cx="1303.7" cy="205.5" r="2.9"/>
<circle cx="1333.4" cy="205.5" r="2.9"/>
<circle cx="1363.1" cy="205.5" r="2.9"/>
<circle cx="1392.7" cy="205.5" r="2.9"/>
<circle cx="1422.4" cy="205.5" r="2.9"/>
<circle cx="1452.1" cy="205.5" r="2.9"/>
<circle cx="1481.8" cy="205.5" r="2.9"/>
<circle cx="1511.5" cy="205.5" r="2.9"/>
<circle cx="1541.2" cy="205.5" r="2.9"/>
<circle cx="1570.9" cy="205.5" r="2.9"/>
<circle cx="1600.6" cy="205.5" r="2.9"/>
<circle cx="1630.3" cy="205.5" r="2.9"/>
<circle cx="1660.0" cy="205.5" r="2.9"/>
<circle cx="1689.6" cy="205.5" r="2.9"/>
<circle cx="1719.3" cy="205.5" r="2.9"/>
<circle cx="1749.0" cy="205.5" r="2.9"/>
<circle cx="1778.7" cy="205.5" r="2.9"/>
<circle cx="1808.4" cy="205.5" r="2.9"/>
<circle cx="1838.1" cy="205.5" r="2.9"/>
<circle cx="1867.8" cy="205.5" r="2.9"/>
<circle cx="1897.5" cy="205.5" r="2.9"/>
<circle cx="1927.2" cy="205.5" r="2.9"/>
<circle cx="1956.9" cy="205.5" r="2.9"/>
<circle cx="1986.5" cy="205.5" r="2.9"/>
<circle cx="2016.2" cy="205.5" r="2.9"/>
<circle cx="2045.9" cy="205.5" r="2.9"/>
<circle cx="2075.6" cy="205.5" r="2.9"/>
<circle cx="2105.3" cy="205.5" r="2.9"/>
<circle cx="305.2" cy="333.7" r="2.9"/>
<circle cx="334.9" cy="333.7" r="2.9"/>
<circle cx="364.6" cy="333.7" r="2.9"/>
<circle cx="394.3" cy="333.7" r="2.9"/>
<circle cx="424.0" cy="333.7" r="2.9"/>
<circle cx="453.6" cy="333.7" r="2.9"/>
<circle cx="483.3" cy="333.7" r="2.9"/>
<circle cx="513.0" cy="333.7" r="2.9"/>
<circle cx="542.7" cy="333.7" r="2.9"/>
<circle cx="572.4" cy="333.7" r="2.9"/>
<circle cx="602.1" cy="333.7" r="2.9"/>
<circle cx="631.8" cy="333.7" r="2.9"/>
<circle cx="661.5" cy="333.7" r="2.9"/>
<circle cx="691.2" cy="333.7" r="2.9"/>
<circle cx="720.9" cy="333.7" r="2.9"/>
<circle cx="750.6" cy="333.7" r="2.9"/>
<circle cx="780.2" cy="333.7" r="2.9"/>
<circle cx="809.9" cy="333.7" r="2.9"/>
<circle cx="839.6" cy="333.7" r="2.9"/>
<circle cx="869.3" cy="333.7" r="2.9"/>
<circle cx="899.0" cy="333.7" r="2.9"/>
<circle cx="928.7" cy="333.7" r="2.9"/>
<circle cx="958.4" cy="333.7" r="2.9"/>
<circle cx="988.1" cy="333.7" r="2.9"/>
<circle cx="1017.8" cy="333.7" r="2.9"/>
<circle cx="1047.5" cy="333.7" r="2.9"/>
<circle cx="1077.1" cy="333.7" r="2.9"/>
<circle cx="1106.8" cy="333.7" r="2.9"/>
<circle cx="1136.5" cy="333.7" r="2.9"/>
<circle cx="1166.2" cy="333.7" r="2.9"/>
<circle cx="1195.9" cy="333.7" r="2.9"/>
<circle cx="1225.6" cy="333.7" r="2.9"/>
<circle cx="1255.3" cy="333.7" r="2.9"/>
<circle cx="1285.0" cy="333.7" r="2.9"/>
<circle cx="1314.7" cy="333.7" r="2.9"/>
<circle cx="1344.4" cy="333.7" r="2.9"/>
<circle cx="1374.0" cy="333.7" r="2.9"/>
<circle cx="1403.7" cy="333.7" r="2.9"/>
<circle cx="1433.4" cy="333.7" r="2.9"/>
<circle cx="1463.1" cy="333.7" r="2.9"/>
<circle cx="1492.8" cy="333.7" r="2.9"/>
<circle cx="1522.5" cy="333.7" r="2.9"/>
<circle cx="1552.2" cy="333.7" r="2.9"/>
<circle cx="1581.9" cy="333.7" r="2.9"/>
<circle cx="1611.6" cy="333.7" r="2.9"/>
<circle cx="1641.3" cy="333.7" r="2.9"/>
<circle cx="1670.9" cy="333.7" r="2.9"/>
<circle cx="1700.6" cy="333.7" r="2.9"/>
<circle cx="1730.3" cy="333.7" r="2.9"/>
<circle cx="1760.0" cy="333.7" r="2.9"/>
<circle cx="1789.7" cy="333.7" r="2.9"/>
<circle cx="1819.4" cy="333.7" r="2.9"/>
<circle cx="1849.1" cy="333.7" r="2.9"/>
<circle cx="1878.8" cy="333.7" r="2.9"/>
<circle cx="1908.5" cy="333.7" r="2.9"/>
<circle cx="1938.2" cy="333.7" r="2.9"/>
<circle cx="1967.8" cy="333.7" r="2.9"/>
<circle cx="1997.5" cy="333.7" r="2.9"/>
<circle cx="2027.2" cy="333.7" r="2.9"/>
<circle cx="2056.9" cy="333.7" r="2.9"/>
<circle cx="2086.6" cy="333.7" r="2.9"/>
<circle cx="323.9" cy="461.8" r="2.9"/>
<circle cx="353.6" cy="461.8" r="2.9"/>
<circle cx="383.3" cy="461.8" r="2.9"/>
<circle cx="413.0" cy="461.8" r="2.9"/>
<circle cx="442.7" cy="461.8" r="2.9"/>
<circle cx="472.3" cy="461.8" r="2.9"/>
<circle cx="502.0" cy="461.8" r="2.9"/>
<circle cx="531.7" cy="461.8" r="2.9"/>
<circle cx="561.4" cy="461.8" r="2.9"/>
<circle cx="591.1" cy="461.8" r="2.9"/>
<circle cx="620.8" cy="461.8" r="2.9"/>
<circle cx="650.5" cy="461.8" r="2.9"/>
<circle cx="680.2" cy="461.8" r="2.9"/>
<circle cx="709.9" cy="461.8" r="2.9"/>
<circle cx="739.6" cy="461.8" r="2.9"/>
<circle cx="769.3" cy="461.8" r="2.9"/>
<circle cx="798.9" cy="461.8" r="2.9"/>
<circle cx="828.6" cy="461.8" r="2.9"/>
<circle cx="858.3" cy="461.8" r="2.9"/>
<circle cx="888.0" cy="461.8" r="2.9"/>
<circle cx="917.7" cy="461.8" r="2.9"/>
<circle cx="947.4" cy="461.8" r="2.9"/>
<circle cx="977.1" cy="461.8" r="2.9"/>
<circle cx="1006.8" cy="461.8" r="2.9"/>
<circle cx="1036.5" cy="461.8" r="2.9"/>
<circle cx="1066.2" cy="461.8" r="2.9"/>
<circle cx="1095.8" cy="461.8" r="2.9"/>
<circle cx="1125.5" cy="461.8" r="2.9"/>
<circle cx="1155.2" cy="461.8" r="2.9"/>
<circle cx="1184.9" cy="461.8" r="2.9"/>
<circle cx="1214.6" cy="461.8" r="2.9"/>
<circle cx="1244.3" cy="461.8" r="2.9"/>
<circle cx="1274.0" cy="461.8" r="2.9"/>
<circle cx="1303.7" cy="461.8" r="2.9"/>
<circle cx="1333.4" cy="461.8" r="2.9"/>
<circle cx="1363.1" cy="461.8" r="2.9"/>
<circle cx="1392.7" cy="461.8" r="2.9"/>
<circle cx="1422.4" cy="461.8" r="2.9"/>
<circle cx="1452.1" cy="461.8" r="2.9"/>
<circle cx="1481.8" cy="461.8" r="2.9"/>
<circle cx="1511.5" cy="461.8" r="2.9"/>
<circle cx="1541.2" cy="461.8" r="2.9"/>
<circle cx="1570.9" cy="461.8" r="2.9"/>
<circle cx="1600.6" cy="461.8" r="2.9"/>
<circle cx="1630.3" cy="461.8" r="2.9"/>
<circle cx="1660.0" cy="461.8" r="2.9"/>
<circle cx="1689.6" cy="461.8" r="2.9"/>
<circle cx="1719.3" cy="461.8" r="2.9"/>
<circle cx="1749.0" cy="461.8" r="2.9"/>
<circle cx="1778.7" cy="461.8" r="2.9"/>
<circle cx="1808.4" cy="461.8" r="2.9"/>
<circle cx="1838.1" cy="461.8" r="2.9"/>
<circle cx="1867.8" cy="461.8" r="2.9"/>
<circle cx="1897.5" cy="461.8" r="2.9"/>
<circle cx="1927.2" cy="461.8" r="2.9"/>
<circle cx="1956.9" cy="461.8" r="2.9"/>
<circle cx="1986.5" cy="461.8" r="2.9"/>
<circle cx="2016.2" cy="461.8" r="2.9"/>
<circle cx="2045.9" cy="461.8" r="2.9"/>
<circle cx="2075.6" cy="461.8" r="2.9"/>
<circle cx="2105.3" cy="461.8" r="2.9"/>
<circle cx="341.4" cy="596.2" r="2.9"/>
<circle cx="371.1" cy="596.2" r="2.9"/>
<circle cx="400.8" cy="596.2" r="2.9"/>
<circle cx="430.5" cy="596.2" r="2.9"/>
<circle cx="460.2" cy="596.2" r="2.9"/>
<circle cx="489.8" cy="596.2" r="2.9"/>
<circle cx="519.5" cy="596.2" r="2.9"/>
<circle cx="549.2" cy="596.2" r="2.9"/>
<circle cx="578.9" cy="596.2" r="2.9"/>
<circle cx="608.6" cy="596.2" r="2.9"/>
<circle cx="638.3" cy="596.2" r="2.9"/>
<circle cx="668.0" cy="596.2" r="2.9"/>
<circle cx="697.7" cy="596.2" r="2.9"/>
<circle cx="727.4" cy="596.2" r="2.9"/>
<circle cx="757.1" cy="596.2" r="2.9"/>
<circle cx="786.8" cy="596.2" r="2.9"/>
<circle cx="816.4" cy="596.2" r="2.9"/>
<circle cx="846.1" cy="596.2" r="2.9"/>
<circle cx="875.8" cy="596.2" r="2.9"/>
<circle cx="905.5" cy="596.2" r="2.9"/>
<circle cx="935.2" cy="596.2" r="2.9"/>
<circle cx="964.9" cy="596.2" r="2.9"/>
<circle cx="994.6" cy="596.2" r="2.9"/>
<circle cx="1024.3" cy="596.2" r="2.9"/>
<circle cx="1054.0" cy="596.2" r="2.9"/>
<circle cx="1083.7" cy="596.2" r="2.9"/>
<circle cx="1113.3" cy="596.2" r="2.9"/>
<circle cx="1143.0" cy="596.2" r="2.9"/>
<circle cx="1172.7" cy="596.2" r="2.9"/>
<circle cx="1202.4" cy="596.2" r="2.9"/>
<circle cx="1232.1" cy="596.2" r="2.9"/>
<circle cx="1261.8" cy="596.2" r="2.9"/>
<circle cx="1291.5" cy="596.2" r="2.9"/>
<circle cx="1321.2" cy="596.2" r="2.9"/>
<circle cx="1350.9" cy="596.2" r="2.9"/>
<circle cx="1380.6" cy="596.2" r="2.9"/>
<circle cx="1410.2" cy="596.2" r="2.9"/>
<circle cx="1439.9" cy="596.2" r="2.9"/>
<circle cx="1469.6" cy="596.2" r="2.9"/>
<circle cx="1499.3" cy="596.2" r="2.9"/>
<circle cx="1529.0" cy="596.2" r="2.9"/>
<circle cx="1558.7" cy="596.2" r="2.9"/>
<circle cx="1588.4" cy="596.2" r="2.9"/>
<circle cx="1618.1" cy="596.2" r="2.9"/>
<circle cx="1647.8" cy="596.2" r="2.9"/>
<circle cx="1677.5" cy="596.2" r="2.9"/>
<circle cx="1707.1" cy="596.2" r="2.9"/>
<circle cx="1736.8" cy="596.2" r="2.9"/>
<circle cx="1766.5" cy="596.2" r="2.9"/>
<circle cx="1796.2" cy="596.2" r="2.9"/>
<circle cx="1825.9" cy="596.2" r="2.9"/>
<circle cx="1855.6" cy="596.2" r="2.9"/>
<circle cx="1885.3" cy="596.2" r="2.9"/>
<circle cx="1915.0" cy="596.2" r="2.9"/>
<circle cx="1944.7" cy="596.2" r="2.9"/>
<circle cx="1974.4" cy="596.2" r="2.9"/>
<circle cx="2004.0" cy="596.2" r="2.9"/>
<circle cx="2033.7" cy="596.2" r="2.9"/>
<circle cx="2063.4" cy="596.2" r="2.9"/>
<circle cx="2093.1" cy="596.2" r="2.9"/>
<circle cx="2122.8" cy="596.2" r="2.9"/>
<circle cx="341.4" cy="718.1" r="2.9"/>
<circle cx="371.1" cy="718.1" r="2.9"/>
<circle cx="400.8" cy="718.1" r="2.9"/>
<circle cx="430.5" cy="718.1" r="2.9"/>
<circle cx="460.2" cy="718.1" r="2.9"/>
<circle cx="489.8" cy="718.1" r="2.9"/>
<circle cx="519.5" cy="718.1" r="2.9"/>
<circle cx="549.2" cy="718.1" r="2.9"/>
<circle cx="578.9" cy="718.1" r="2.9"/>
<circle cx="608.6" cy="718.1" r="2.9"/>
<circle cx="638.3" cy="718.1" r="2.9"/>
<circle cx="668.0" cy="718.1" r="2.9"/>
<circle cx="697.7" cy="718.1" r="2.9"/>
<circle cx="727.4" cy="718.1" r="2.9"/>
<circle cx="757.1" cy="718.1" r="2.9"/>
<circle cx="786.8" cy="718.1" r="2.9"/>
<circle cx="816.4" cy="718.1" r="2.9"/>
<circle cx="846.1" cy="718.1" r="2.9"/>
<circle cx="875.8" cy="718.1" r="2.9"/>
<circle cx="905.5" cy="718.1" r="2.9"/>
<circle cx="935.2" cy="718.1" r="2.9"/>
<circle cx="964.9" cy="718.1" r="2.9"/>
<circle cx="994.6" cy="718.1" r="2.9"/>
<circle cx="1024.3" cy="718.1" r="2.9"/>
<circle cx="1054.0" cy="718.1" r="2.9"/>
<circle cx="1083.7" cy="718.1" r="2.9"/>
<circle cx="1113.3" cy="718.1" r="2.9"/>
<circle cx="1143.0" cy="718.1" r="2.9"/>
<circle cx="1172.7" cy="718.1" r="2.9"/>
<circle cx="1202.4" cy="718.1" r="2.9"/>
<circle cx="1232.1" cy="718.1" r="2.9"/>
<circle cx="1261.8" cy="718.1" r="2.9"/>
<circle cx="1291.5" cy="718.1" r="2.9"/>
<circle cx="1321.2" cy="718.1" r="2.9"/>
<circle cx="1350.9" cy="718.1" r="2.9"/>
<circle cx="1380.6" cy="718.1" r="2.9"/>
<circle cx="1410.2" cy="718.1" r="2.9"/>
<circle cx="1439.9" cy="718.1" r="2.9"/>
<circle cx="1469.6" cy="718.1" r="2.9"/>
<circle cx="1499.3" cy="718.1" r="2.9"/>
<circle cx="1529.0" cy="718.1" r="2.9"/>
<circle cx="1558.7" cy="718.1" r="2.9"/>
<circle cx="1588.4" cy="718.1" r="2.9"/>
<circle cx="1618.1" cy="718.1" r="2.9"/>
<circle cx="1647.8" cy="718.1" r="2.9"/>
<circle cx="1677.5" cy="718.1" r="2.9"/>
<circle cx="1707.1" cy="718.1" r="2.9"/>
<circle cx="1736.8" cy="718.1" r="2.9"/>
<circle cx="1766.5" cy="718.1" r="2.9"/>
<circle cx="1796.2" cy="718.1" r="2.9"/>
<circle cx="1825.9" cy="718.1" r="2.9"/>
<circle cx="1855.6" cy="718.1" r="2.9"/>
<circle cx="1885.3" cy="718.1" r="2.9"/>
<circle cx="1915.0" cy="718.1" r="2.9"/>
<circle cx="1944.7" cy="718.1" r="2.9"/>
<circle cx="1974.4" cy="718.1" r="2.9"/>
<circle cx="2004.0" cy="718.1" r="2.9"/>
<circle cx="2033.7" cy="718.1" r="2.9"/>
<circle cx="2063.4" cy="718.1" r="2.9"/>
<circle cx="2093.1" cy="718.1" r="2.9"/>
<circle cx="2122.8" cy="718.1" r="2.9"/>
<circle cx="341.4" cy="846.2" r="2.9"/>
<circle cx="371.1" cy="846.2" r="2.9"/>
<circle cx="400.8" cy="846.2" r="2.9"/>
<circle cx="430.5" cy="846.2" r="2.9"/>
<circle cx="460.2" cy="846.2" r="2.9"/>
<circle cx="489.8" cy="846.2" r="2.9"/>
<circle cx="519.5" cy="846.2" r="2.9"/>
<circle cx="549.2" cy="846.2" r="2.9"/>
<circle cx="578.9" cy="846.2" r="2.9"/>
<circle cx="608.6" cy="846.2" r="2.9"/>
<circle cx="638.3" cy="846.2" r="2.9"/>
<circle cx="668.0" cy="846.2" r="2.9"/>
<circle cx="697.7" cy="846.2" r="2.9"/>
<circle cx="727.4" cy="846.2" r="2.9"/>
<circle cx="757.1" cy="846.2" r="2.9"/>
<circle cx="786.8" cy="846.2" r="2.9"/>
<circle cx="816.4" cy="846.2" r="2.9"/>
<circle cx="846.1" cy="846.2" r="2.9"/>
<circle cx="875.8" cy="846.2" r="2.9"/>
<circle cx="905.5" cy="846.2" r="2.9"/>
<circle cx="935.2" cy="846.2" r="2.9"/>
<circle cx="964.9" cy="846.2" r="2.9"/>
<circle cx="994.6" cy="846.2" r="2.9"/>
<circle cx="1024.3" cy="846.2" r="2.9"/>
<circle cx="1054.0" cy="846.2" r="2.9"/>
<circle cx="1083.7" cy="846.2" r="2.9"/>
<circle cx="1113.3" cy="846.2" r="2.9"/>
<circle cx="1143.0" cy="846.2" r="2.9"/>
<circle cx="1172.7" cy="846.2" r="2.9"/>
<circle cx="1202.4" cy="846.2" r="2.9"/>
<circle cx="1232.1" cy="846.2" r="2.9"/>
<circle cx="1261.8" cy="846.2" r="2.9"/>
<circle cx="1291.5" cy="846.2" r="2.9"/>
<circle cx="1321.2" cy="846.2" r="2.9"/>
<circle cx="1350.9" cy="846.2" r="2.9"/>
<circle cx="1380.6" cy="846.2" r="2.9"/>
<circle cx="1410.2" cy="846.2" r="2.9"/>
<circle cx="1439.9" cy="846.2" r="2.9"/>
<circle cx="1469.6" cy="846.2" r="2.9"/>
<circle cx="1499.3" cy="846.2" r="2.9"/>
<circle cx="1529.0" cy="846.2" r="2.9"/>
<circle cx="1558.7" cy="846.2" r="2.9"/>
<circle cx="1588.4" cy="846.2" r="2.9"/>
<circle cx="1618.1" cy="846.2" r="2.9"/>
<circle cx="1647.8" cy="846.2" r="2.9"/>
<circle cx="1677.5" cy="846.2" r="2.9"/>
<circle cx="1707.1" cy="846.2" r="2.9"/>
<circle cx="1736.8" cy="846.2" r="2.9"/>
<circle cx="1766.5" cy="846.2" r="2.9"/>
<circle cx="1796.2" cy="846.2" r="2.9"/>
<circle cx="1825.9" cy="846.2" r="2.9"/>
<circle cx="1855.6" cy="846.2" r="2.9"/>
<circle cx="1885.3" cy="846.2" r="2.9"/>
<circle cx="1915.0" cy="846.2" r="2.9"/>
<circle cx="1944.7" cy="846.2" r="2.9"/>
<circle cx="1974.4" cy="846.2" r="2.9"/>
<circle cx="2004.0" cy="846.2" r="2.9"/>
<circle cx="2033.7" cy="846.2" r="2.9"/>
<circle cx="2063.4" cy="846.2" r="2.9"/>
<circle cx="2093.1" cy="846.2" r="2.9"/>
<circle cx="2122.8" cy="846.2" r="2.9"/>
<circle cx="341.4" cy="974.3" r="2.9"/>
<circle cx="371.1" cy="974.3" r="2.9"/>
<circle cx="400.8" cy="974.3" r="2.9"/>
<circle cx="430.5" cy="974.3" r="2.9"/>
<circle cx="460.2" cy="974.3" r="2.9"/>
<circle cx="489.8" cy="974.3" r="2.9"/>
<circle cx="519.5" cy="974.3" r="2.9"/>
<circle cx="549.2" cy="974.3" r="2.9"/>
<circle cx="578.9" cy="974.3" r="2.9"/>
<circle cx="608.6" cy="974.3" r="2.9"/>
<circle cx="638.3" cy="974.3" r="2.9"/>
<circle cx="668.0" cy="974.3" r="2.9"/>
<circle cx="697.7" cy="974.3" r="2.9"/>
<circle cx="727.4" cy="974.3" r="2.9"/>
<circle cx="757.1" cy="974.3" r="2.9"/>
<circle cx="786.8" cy="974.3" r="2.9"/>
<circle cx="816.4" cy="974.3" r="2.9"/>
<circle cx="846.1" cy="974.3" r="2.9"/>
<circle cx="875.8" cy="974.3" r="2.9"/>
<circle cx="905.5" cy="974.3" r="2.9"/>
<circle cx="935.2" cy="974.3" r="2.9"/>
<circle cx="964.9" cy="974.3" r="2.9"/>
<circle cx="994.6" cy="974.3" r="2.9"/>
<circle cx="1024.3" cy="974.3" r="2.9"/>
<circle cx="1054.0" cy="974.3" r="2.9"/>
<circle cx="1083.7" cy="974.3" r="2.9"/>
<circle cx="1113.3" cy="974.3" r="2.9"/>
<circle cx="1143.0" cy="974.3" r="2.9"/>
<circle cx="1172.7" cy="974.3" r="2.9"/>
<circle cx="1202.4" cy="974.3" r="2.9"/>
<circle cx="1232.1" cy="974.3" r="2.9"/>
<circle cx="1261.8" cy="974.3" r="2.9"/>
<circle cx="1291.5" cy="974.3" r="2.9"/>
<circle cx="1321.2" cy="974.3" r="2.9"/>
<circle cx="1350.9" cy="974.3" r="2.9"/>
<circle cx="1380.6" cy="974.3" r="2.9"/>
<circle cx="1410.2" cy="974.3" r="2.9"/>
<circle cx="1439.9" cy="974.3" r="2.9"/>
<circle cx="1469.6" cy="974.3" r="2.9"/>
<circle cx="1499.3" cy="974.3" r="2.9"/>
<circle cx="1529.0" cy="974.3" r="2.9"/>
<circle cx="1558.7" cy="974.3" r="2.9"/>
<circle cx="1588.4" cy="974.3" r="2.9"/>
<circle cx="1618.1" cy="974.3" r="2.9"/>
<circle cx="1647.8" cy="974.3" r="2.9"/>
<circle cx="1677.5" cy="974.3" r="2.9"/>
<circle cx="1707.1" cy="974.3" r="2.9"/>
<circle cx="1736.8" cy="974.3" r="2.9"/>
<circle cx="1766.5" cy="974.3" r="2.9"/>
<circle cx="1796.2" cy="974.3" r="2.9"/>
<circle cx="1825.9" cy="974.3" r="2.9"/>
<circle cx="1855.6" cy="974.3" r="2.9"/>
<circle cx="1885.3" cy="974.3" r="2.9"/>
<circle cx="1915.0" cy="974.3" r="2.9"/>
<circle cx="1944.7" cy="974.3" r="2.9"/>
<circle cx="1974.4" cy="974.3" r="2.9"/>
<circle cx="2004.0" cy="974.3" r="2.9"/>
<circle cx="2033.7" cy="974.3" r="2.9"/>
<circle cx="2063.4" cy="974.3" r="2.9"/>
<circle cx="2093.1" cy="974.3" r="2.9"/>
<circle cx="2122.8" cy="974.3" r="2.9"/>
<circle cx="341.4" cy="1102.4" r="2.9"/>
<circle cx="371.1" cy="1102.4" r="2.9"/>
<circle cx="400.8" cy="1102.4" r="2.9"/>
<circle cx="430.5" cy="1102.4" r="2.9"/>
<circle cx="460.2" cy="1102.4" r="2.9"/>
<circle cx="489.8" cy="1102.4" r="2.9"/>
<circle cx="519.5" cy="1102.4" r="2.9"/>
<circle cx="549.2" cy="1102.4" r="2.9"/>
<circle cx="578.9" cy="1102.4" r="2.9"/>
<circle cx="608.6" cy="1102.4" r="2.9"/>
<circle cx="638.3" cy="1102.4" r="2.9"/>
<circle cx="668.0" cy="1102.4" r="2.9"/>
<circle cx="697.7" cy="1102.4" r="2.9"/>
<circle cx="727.4" cy="1102.4" r="2.9"/>
<circle cx="757.1" cy="1102.4" r="2.9"/>
<circle cx="786.8" cy="1102.4" r="2.9"/>
<circle cx="816.4" cy="1102.4" r="2.9"/>
<circle cx="846.1" cy="1102.4" r="2.9"/>
<circle cx="875.8" cy="1102.4" r="2.9"/>
<circle cx="905.5" cy="1102.4" r="2.9"/>
<circle cx="935.2" cy="1102.4" r="2.9"/>
<circle cx="964.9" cy="1102.4" r="2.9"/>
<circle cx="994.6" cy="1102.4" r="2.9"/>
<circle cx="1024.3" cy="1102.4" r="2.9"/>
<circle cx="1054.0" cy="1102.4" r="2.9"/>
<circle cx="1083.7" cy="1102.4" r="2.9"/>
<circle cx="1113.3" cy="1102.4" r="2.9"/>
<circle cx="1143.0" cy="1102.4" r="2.9"/>
<circle cx="1172.7" cy="1102.4" r="2.9"/>
<circle cx="1202.4" cy="1102.4" r="2.9"/>
<circle cx="1232.1" cy="1102.4" r="2.9"/>
<circle cx="1261.8" cy="1102.4" r="2.9"/>
<circle cx="1291.5" cy="1102.4" r="2.9"/>
<circle cx="1321.2" cy="1102.4" r="2.9"/>
<circle cx="1350.9" cy="1102.4" r="2.9"/>
<circle cx="1380.6" cy="1102.4" r="2.9"/>
<circle cx="1410.2" cy="1102.4" r="2.9"/>
<circle cx="1439.9" cy="1102.4" r="2.9"/>
<circle cx="1469.6" cy="1102.4" r="2.9"/>
<circle cx="1499.3" cy="1102.4" r="2.9"/>
<circle cx="1529.0" cy="1102.4" r="2.9"/>
<circle cx="1558.7" cy="1102.4" r="2.9"/>
<circle cx="1588.4" cy="1102.4" r="2.9"/>
<circle cx="1618.1" cy="1102.4" r="2.9"/>
<circle cx="1647.8" cy="1102.4" r="2.9"/>
<circle cx="1677.5" cy="1102.4" r="2.9"/>
<circle cx="1707.1" cy="1102.4" r="2.9"/>
<circle cx="1736.8" cy="1102.4" r="2.9"/>
<circle cx="1766.5" cy="1102.4" r="2.9"/>
<circle cx="1796.2" cy="1102.4" r="2.9"/>
<circle cx="1825.9" cy="1102.4" r="2.9"/>
<circle cx="1855.6" cy="1102.4" r="2.9"/>
<circle cx="1885.3" cy="1102.4" r="2.9"/>
<circle cx="1915.0" cy="1102.4" r="2.9"/>
<circle cx="1944.7" cy="1102.4" r="2.9"/>
<circle cx="1974.4" cy="1102.4" r="2.9"/>
<circle cx="2004.0" cy="1102.4" r="2.9"/>
<circle cx="2033.7" cy="1102.4" r="2.9"/>
<circle cx="2063.4" cy="1102.4" r="2.9"/>
<circle cx="2093.1" cy="1102.4" r="2.9"/>
<circle cx="2122.8" cy="1102.4" r="2.9"/>
<circle cx="341.4" cy="1230.6" r="2.9"/>
<circle cx="371.1" cy="1230.6" r="2.9"/>
<circle cx="400.8" cy="1230.6" r="2.9"/>
<circle cx="430.5" cy="1230.6" r="2.9"/>
<circle cx="460.2" cy="1230.6" r="2.9"/>
<circle cx="489.8" cy="1230.6" r="2.9"/>
<circle cx="519.5" cy="1230.6" r="2.9"/>
<circle cx="549.2" cy="1230.6" r="2.9"/>
<circle cx="578.9" cy="1230.6" r="2.9"/>
<circle cx="608.6" cy="1230.6" r="2.9"/>
<circle cx="638.3" cy="1230.6" r="2.9"/>
<circle cx="668.0" cy="1230.6" r="2.9"/>
<circle cx="697.7" cy="1230.6" r="2.9"/>
<circle cx="727.4" cy="1230.6" r="2.9"/>
<circle cx="757.1" cy="1230.6" r="2.9"/>
<circle cx="786.8" cy="1230.6" r="2.9"/>
<circle cx="816.4" cy="1230.6" r="2.9"/>
<circle cx="846.1" cy="1230.6" r="2.9"/>
<circle cx="875.8" cy="1230.6" r="2.9"/>
<circle cx="905.5" cy="1230.6" r="2.9"/>
<circle cx="935.2" cy="1230.6" r="2.9"/>
<circle cx="964.9" cy="1230.6" r="2.9"/>
<circle cx="994.6" cy="1230.6" r="2.9"/>
<circle cx="1024.3" cy="1230.6" r="2.9"/>
<circle cx="1054.0" cy="1230.6" r="2.9"/>
<circle cx="1083.7" cy="1230.6" r="2.9"/>
<circle cx="1113.3" cy="1230.6" r="2.9"/>
<circle cx="1143.0" cy="1230.6" r="2.9"/>
<circle cx="1172.7" cy="1230.6" r="2.9"/>
<circle cx="1202.4" cy="1230.6" r="2.9"/>
<circle cx="1232.1" cy="1230.6" r="2.9"/>
<circle cx="1261.8" cy="1230.6" r="2.9"/>
<circle cx="1291.5" cy="1230.6" r="2.9"/>
<circle cx="1321.2" cy="1230.6" r="2.9"/>
<circle cx="1350.9" cy="1230.6" r="2.9"/>
<circle cx="1380.6" cy="1230.6" r="2.9"/>
<circle cx="1410.2" cy="1230.6" r="2.9"/>
<circle cx="1439.9" cy="1230.6" r="2.9"/>
<circle cx="1469.6" cy="1230.6" r="2.9"/>
<circle cx="1499.3" cy="1230.6" r="2.9"/>
<circle cx="1529.0" cy="1230.6" r="2.9"/>
<circle cx="1558.7" cy="1230.6" r="2.9"/>
<circle cx="1588.4" cy="1230.6" r="2.9"/>
<circle cx="1618.1" cy="1230.6" r="2.9"/>
<circle cx="1647.8" cy="1230.6" r="2.9"/>
<circle cx="1677.5" cy="1230.6" r="2.9"/>
<circle cx="1707.1" cy="1230.6" r="2.9"/>
<circle cx="1736.8" cy="1230.6" r="2.9"/>
<circle cx="1766.5" cy="1230.6" r="2.9"/>
<circle cx="1796.2" cy="1230.6" r="2.9"/>
<circle cx="1825.9" cy="1230.6" r="2.9"/>
<circle cx="1855.6" cy="1230.6" r="2.9"/>
<circle cx="1885.3" cy="1230.6" r="2.9"/>
<circle cx="1915.0" cy="1230.6" r="2.9"/>
<circle cx="1944.7" cy="1230.6" r="2.9"/>
<circle cx="1974.4" cy="1230.6" r="2.9"/>
<circle cx="2004.0" cy="1230.6" r="2.9"/>
<circle cx="2033.7" cy="1230.6" r="2.9"/>
<circle cx="2063.4" cy="1230.6" r="2.9"/>
<circle cx="2093.1" cy="1230.6" r="2.9"/>
<circle cx="2122.8" cy="1230.6" r="2.9"/>
</g>
<rect x="1377" y="128" width="699" height="142.8" fill="#fff" stroke="#262626" stroke-width="3.5"/>
<path d="M1401.8 169 H1567.8" stroke="#000" stroke-width="11.5" stroke-linecap="round"/>
<path d="M1401.8 235 H1567.8" stroke="#00b050" stroke-width="11.5" stroke-linecap="round"/>
<text class="lg" y="192.0" x="1601.0 1655.1 1691.5 1721.1 1739.1 1787.1 1822.8 1859.5 1876.5 1894.1 1929.6 1953.7 1989.4 2025.3">Maximun torque</text>
<text class="lg" y="256.8" x="1602.7 1657.0 1669.0 1704.6 1722.0 1769.8 1805.2 1860.2 1877.2 1894.7 1930.0 1953.7 1989.4 2025.3">Minimum torque</text>
<g class="tk">
<text x="307.0" y="1427.5" text-anchor="middle">0</text>
<text x="569.7" y="1427.5" text-anchor="middle">500</text>
<text x="832.3" y="1427.5" text-anchor="middle">1000</text>
<text x="1095.0" y="1427.5" text-anchor="middle">1500</text>
<text x="1357.6" y="1427.5" text-anchor="middle">2000</text>
<text x="1620.3" y="1427.5" text-anchor="middle">2500</text>
<text x="1882.9" y="1427.5" text-anchor="middle">3000</text>
<text x="2145.6" y="1427.5" text-anchor="middle">3500</text>
<text x="292.6" y="100.2" text-anchor="end">1000</text>
<text x="274.1" y="228.3" text-anchor="end">800</text>
<text x="273.1" y="356.5" text-anchor="end">600</text>
<text x="271.6" y="484.6" text-anchor="end">400</text>
<text x="271.6" y="612.7" text-anchor="end">200</text>
<text x="235.6" y="740.9" text-anchor="end">0</text>
<text x="266.1" y="869.0" text-anchor="end">–200</text>
<text x="266.1" y="997.1" text-anchor="end">–400</text>
<text x="266.1" y="1125.2" text-anchor="end">–600</text>
<text x="251.6" y="1253.4" text-anchor="end">–800</text>
<text x="276.6" y="1381.5" text-anchor="end">–1000</text>
</g>
<text class="ax" style="font-size:79px" x="1286.4" y="1504.2" text-anchor="middle">Speed (r/min)</text>
<text class="ax" style="font-size:80px" transform="translate(77.1 722.5) rotate(-90)" text-anchor="middle">Torque (Nm)</text>
</svg></body></html>
